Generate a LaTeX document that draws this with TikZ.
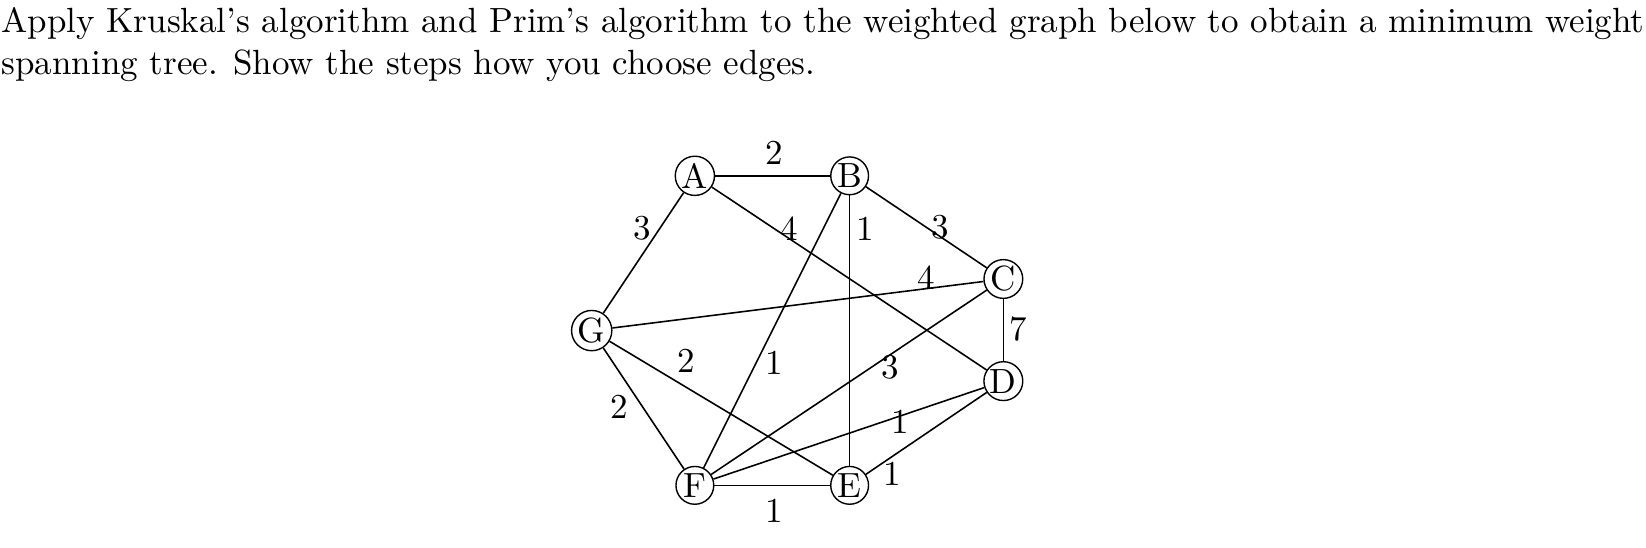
\documentclass[tikz,border=0pt]{standalone}
\begin{document}
\begin{tikzpicture}[x=0.2857pt,y=-0.2857pt,
  vtx/.style={circle,draw,minimum size=10.8pt,inner sep=0.3pt},
  wl/.style={inner sep=0pt},
  ed/.style={line width=0.45pt}]
\useasboundingbox (0,0) rectangle (1646,548);
\node[anchor=base west,inner sep=0] (t1) at (1,33) {Apply Kruskal's algorithm and Prim's algorithm to the weighted graph below to obtain a minimum weight};
\node[anchor=base west,inner sep=0] (t2) at (1,75) {spanning tree. Show the steps how you choose edges.};
\begin{scope}[x=0.3008pt,y=-0.3008pt]
\node[vtx] (A) at (660,167) {A};
\node[vtx] (B) at (807,167) {B};
\node[vtx] (C) at (953,265) {C};
\node[vtx] (D) at (953,362) {D};
\node[vtx] (E) at (807,461) {E};
\node[vtx] (F) at (660,461) {F};
\node[vtx] (G) at (562,314) {G};
\draw[ed] (A)--(B); \draw[ed] (A)--(G); \draw[ed] (A)--(D);
\draw[ed] (B)--(F); \draw[ed] (B)--(E); \draw[ed] (B)--(C);
\draw[ed] (G)--(C); \draw[ed] (C)--(D); \draw[ed] (G)--(E);
\draw[ed] (G)--(F); \draw[ed] (C)--(F); \draw[ed] (F)--(D);
\draw[ed] (E)--(D); \draw[ed] (F)--(E);
\node[wl] (lAB) at (735,145) {2};
\node[wl] (lAG) at (610,217) {3};
\node[wl] (lAD) at (750,217) {4};
\node[wl] (lBE) at (822,217) {1};
\node[wl] (lBC) at (893,216) {3};
\node[wl] (lGC) at (880,264) {4};
\node[wl] (lCD) at (967,313) {7};
\node[wl] (lGE) at (652,343) {2};
\node[wl] (lBF) at (735,345) {1};
\node[wl] (lCF) at (846,349) {3};
\node[wl] (lFD) at (855,401) {1};
\node[wl] (lED) at (847,450) {1};
\node[wl] (lGF) at (588,386) {2};
\node[wl] (lFE) at (735,485) {1};
\end{scope}
\end{tikzpicture}
\end{document}
